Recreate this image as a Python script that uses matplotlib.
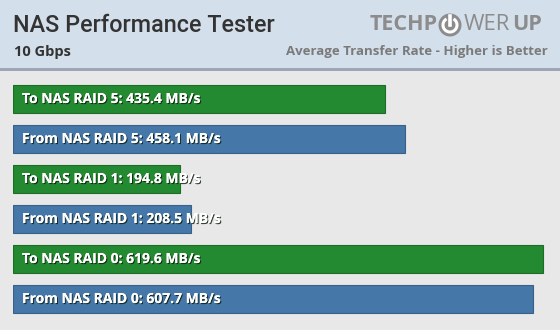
import numpy as np
import matplotlib
matplotlib.use('Agg')
import matplotlib.pyplot as plt
import matplotlib.patheffects as pe
from matplotlib.patches import Rectangle, Circle, Arc
from matplotlib.lines import Line2D

# Datos
labels = ['To NAS RAID 5', 'From NAS RAID 5', 'To NAS RAID 1',
          'From NAS RAID 1', 'To NAS RAID 0', 'From NAS RAID 0']
values = [435.4, 458.1, 194.8, 208.5, 619.6, 607.7]
directions = ['to', 'from', 'to', 'from', 'to', 'from']
unit = 'MB/s'

colors = {'to': '#238a31', 'from': '#4577a8'}
W, H = 560, 330
plt.rcParams['font.family'] = ['Open Sans', 'DejaVu Sans']

fig = plt.figure(figsize=(W / 100, H / 100), dpi=100)
fig.patch.set_facecolor('#e8e8e8')

# Cabecera
fig.patches.append(Rectangle((0, 1 - 68 / H), 1, 68 / H, transform=fig.transFigure,
                             facecolor='#d4dfec', edgecolor='none', zorder=0))
fig.patches.append(Rectangle((0, 1 - 71 / H), 1, 3 / H, transform=fig.transFigure,
                             facecolor='#9da6b6', edgecolor='none', zorder=0))

fig.text(13 / W, 1 - 25 / H, 'NAS Performance Tester', fontsize=16.8, color='#333333',
         family=['Roboto', 'DejaVu Sans'], fontweight='medium',
         va='center', ha='left')
fig.text(14 / W, 1 - 52 / H, '10 Gbps', fontsize=10.5, color='#333333',
         fontweight='bold', va='center', ha='left')
fig.text(548 / W, 1 - 52 / H, 'Average Transfer Rate - Higher is Better', fontsize=9.5,
         color='#7a7a7a', fontweight='bold', va='center', ha='right')

# Logo
gray = '#8c8c8c'
logo_y = 1 - 25 / H
fig.text(438 / W, logo_y, 'TECHP', fontsize=15.5, color=gray, fontweight='bold',
         va='center', ha='right')
cx, cy = 450, H - 25
fig.patches.append(Circle((cx, cy), 11.5, transform=None, facecolor=gray, edgecolor='none'))
fig.patches.append(Arc((cx, cy), 14, 14, theta1=120, theta2=420, transform=None,
                       edgecolor='white', linewidth=2.2))
fig.lines.append(Line2D([cx, cx], [cy, cy + 9], transform=None, color='white', linewidth=2.6))
fig.text(487 / W, logo_y, 'WER', fontsize=16, color=gray, fontweight='normal',
         va='center', ha='center')
fig.text(512 / W, logo_y, 'UP', fontsize=15.5, color=gray, fontweight='bold',
         va='center', ha='left')

# Ejes de barras
px_per = 530 / 619.6
ax = fig.add_axes([13 / W, 11 / H, (W - 13) / W, 240 / H])
ax.set_xlim(0, (W - 13) / px_per)
ax.set_ylim(5.5, -0.5)
ax.axis('off')

y = np.arange(len(values))
ax.barh(y, values, height=0.7, color=[colors[d] for d in directions],
        edgecolor=[('#1c6e27' if d == 'to' else '#38618a') for d in directions], linewidth=0.8)

for i, (lab, v) in enumerate(zip(labels, values)):
    ax.text(9 / px_per, i, f'{lab}: {v} {unit}', color='white', fontsize=10,
            fontweight='bold', va='center', ha='left',
            path_effects=[pe.withSimplePatchShadow(offset=(0.8, -0.8), shadow_rgbFace='#0a1a0a', alpha=0.8),
                          pe.Normal()])

fig.savefig('out.png', dpi=100, facecolor=fig.get_facecolor())
